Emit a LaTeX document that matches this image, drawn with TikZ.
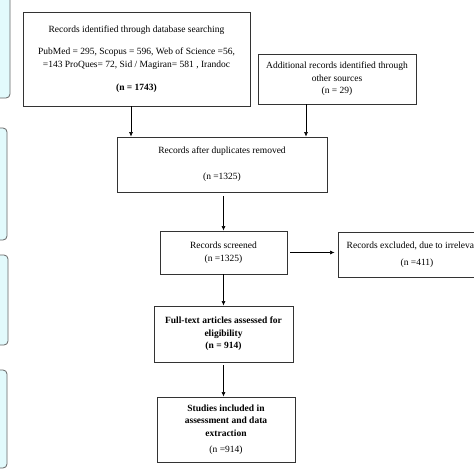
\documentclass[tikz,border=0pt]{standalone}
\usepackage{fontspec}
\setmainfont{Liberation Serif}
\usetikzlibrary{arrows.meta}

\definecolor{paleblue}{HTML}{E2FAFC}

\begin{document}
\begin{tikzpicture}[x=1pt,y=-1pt,
    box/.style={draw=black!80, line width=0.8pt, fill=white, align=center, inner sep=0pt,
      font=\fontsize{9.5}{12.5}\selectfont},
    phase/.style={draw=black!60, line width=0.8pt, rounded corners=4pt, fill=paleblue},
    flow/.style={-{Latex[length=4.5pt,width=4pt]}, line width=0.6pt}]

    \clip (0,0) rectangle (474,474);

    \fill[white] (0,0) rectangle (474,474);


    \draw[phase] (-20,-5) rectangle (10,98);

    \draw[phase] (-20,128) rectangle (7,240);

    \draw[phase] (-20,255) rectangle (8,345);

    \draw[phase] (-20,370) rectangle (7,468);


    \node[box, minimum width=227pt, minimum height=94pt] (search) at (136.5,59)
      {Records identified through database searching\\[9.5pt]
       PubMed = 295, Scopus = 596, Web of Science =56,\\
       =143 ProQues= 72, Sid / Magiran= 581 , Irandoc\\[10.5pt]
       \textbf{(n = 1743)}};

    \node[box, minimum width=158pt, minimum height=50pt] (other) at (337,79)
      {Additional records identified through\\ other sources\\ (n = 29)};

    \node[box, minimum width=210pt, minimum height=55pt] (dedup) at (222,164.5)
      {Records after duplicates removed\\[13.5pt] (n =1325)};

    \node[box, minimum width=127pt, minimum height=43pt] (screen) at (223.5,252.5)
      {Records screened\\ (n =1325)};

    \node[box, minimum width=158pt, minimum height=45pt] (excl) at (417,254.5)
      {Records excluded, due to irrelevance\\[4.5pt] (n =411)};

    \node[box, minimum width=139pt, minimum height=56pt] (full) at (223.5,334)
      {\textbf{Full-text articles assessed for}\\ \textbf{eligibility}\\ \textbf{(n = 914)}};

    \node[box, minimum width=138pt, minimum height=65pt] (incl) at (226,429.5)
      {\textbf{Studies included in}\\ \textbf{assessment and data}\\ \textbf{extraction}\\[3.5pt] (n =914)};


    \draw[flow] ([xshift=-5.5pt]search.south) -- ([xshift=-5.5pt]search.south |- dedup.north);

    \draw[flow] ([xshift=-31pt]other.south) -- ([xshift=-31pt]other.south |- dedup.north);

    \draw[flow, shorten <=4pt] (dedup.south -| screen.north) -- (screen.north);

    \draw[flow, shorten <=3pt, shorten >=3pt] (screen.east) -- (screen.east -| excl.west);

    \draw[flow] (screen.south) -- (screen.south |- full.north);

    \draw[flow, shorten <=3pt] (full.south) -- (full.south |- incl.north);

  \end{tikzpicture}
\end{document}
